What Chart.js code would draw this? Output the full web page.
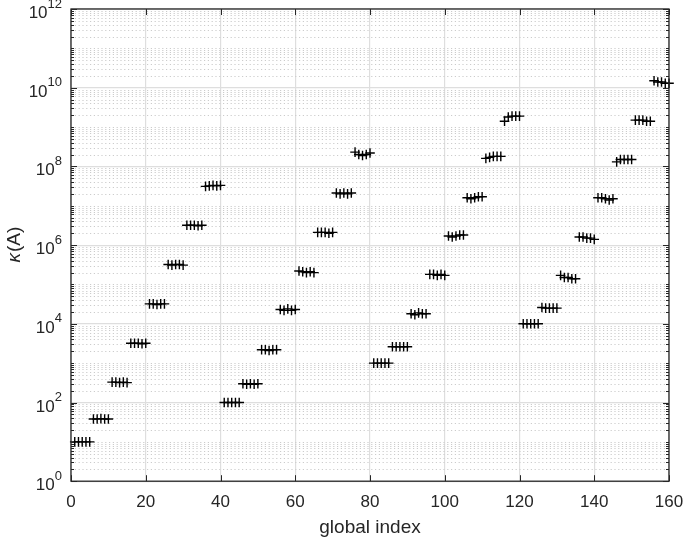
<!DOCTYPE html>
<html>
<head>
<meta charset="utf-8">
<script src="https://cdn.jsdelivr.net/npm/chart.js@4.4.0/dist/chart.umd.min.js"></script>
<style>
  html, body { margin: 0; padding: 0; background: #fff; }
  #wrap { width: 685px; height: 539px; }
</style>
</head>
<body>
<div id="wrap"><canvas id="kappaChart" width="685" height="539"></canvas></div>
<script>
// x tick labels and y decade ticks
const xTicks = [0, 20, 40, 60, 80, 100, 120, 140, 160];
const yMajorExp = [0, 2, 4, 6, 8, 10, 12];

// kappa(A) for each global index 1..160, five matrices per block
const kappa = [
  10, 10, 10, 10, 10,
  38, 38, 39, 38, 38,
  330, 330, 320, 330, 320,
  3200, 3200, 3200, 3100, 3200,
  32000, 32000, 31000, 32000, 32000,
  320000, 310000, 320000, 320000, 310000,
  3.2e6, 3.2e6, 3.2e6, 3.1e6, 3.2e6,
  3.1e7, 3.2e7, 3.3e7, 3.2e7, 3.3e7,
  100, 100, 100, 100, 100,
  300, 290, 300, 290, 300,
  2200, 2200, 2100, 2200, 2200,
  2.3e4, 2.2e4, 2.4e4, 2.2e4, 2.3e4,
  2.2e5, 2.1e5, 2.0e5, 2.1e5, 2.0e5,
  2.1e6, 2.1e6, 2.1e6, 2.0e6, 2.1e6,
  2.1e7, 2.0e7, 2.1e7, 2.0e7, 2.1e7,
  2.3e8, 2.0e8, 1.9e8, 2.0e8, 2.2e8,
  1000, 1000, 1000, 1000, 1000,
  2600, 2600, 2600, 2600, 2600,
  1.8e4, 1.7e4, 1.9e4, 1.8e4, 1.8e4,
  1.8e5, 1.8e5, 1.7e5, 1.8e5, 1.7e5,
  1.7e6, 1.6e6, 1.7e6, 1.8e6, 1.8e6,
  1.6e7, 1.5e7, 1.6e7, 1.7e7, 1.7e7,
  1.6e8, 1.7e8, 1.8e8, 1.8e8, 1.8e8,
  1.4e9, 1.8e9, 1.9e9, 1.9e9, 1.9e9,
  1.0e4, 1.0e4, 1.0e4, 1.0e4, 1.0e4,
  2.6e4, 2.5e4, 2.5e4, 2.5e4, 2.5e4,
  1.7e5, 1.5e5, 1.5e5, 1.4e5, 1.4e5,
  1.6e6, 1.6e6, 1.5e6, 1.5e6, 1.4e6,
  1.6e7, 1.6e7, 1.5e7, 1.4e7, 1.5e7,
  1.3e8, 1.5e8, 1.5e8, 1.5e8, 1.5e8,
  1.5e9, 1.5e9, 1.5e9, 1.4e9, 1.4e9,
  1.5e10, 1.4e10, 1.4e10, 1.3e10, 1.3e10
];

const FONT = "'Liberation Sans', Arial, Helvetica, sans-serif";
const INK = '#262626';

// box, inward ticks, minor grid, tick labels (MATLAB look)
const axisFrame = {
  id: 'axisFrame',
  beforeDatasetsDraw(chart) {
    const { ctx, chartArea: a, scales: { y } } = chart;
    ctx.save();
    ctx.strokeStyle = '#cccccc';
    ctx.lineWidth = 1;
    ctx.setLineDash([1.2, 2.6]);
    for (let k = 0; k < 12; k++) {
      for (let m = 1; m <= 9; m++) {
        if (m === 1 && k % 2 === 0) continue;
        const py = Math.round(y.getPixelForValue(m * Math.pow(10, k))) + 0.5;
        ctx.beginPath();
        ctx.moveTo(a.left, py);
        ctx.lineTo(a.right, py);
        ctx.stroke();
      }
    }
    ctx.restore();
  },
  afterDraw(chart) {
    const { ctx, chartArea: a, scales: { x, y } } = chart;
    ctx.save();
    ctx.strokeStyle = INK;
    ctx.lineWidth = 1.3;
    ctx.strokeRect(a.left, a.top, a.right - a.left, a.bottom - a.top);

    ctx.lineWidth = 1;
    ctx.beginPath();
    xTicks.forEach(v => {
      const px = Math.round(x.getPixelForValue(v)) + 0.5;
      ctx.moveTo(px, a.bottom); ctx.lineTo(px, a.bottom - 6);
      ctx.moveTo(px, a.top); ctx.lineTo(px, a.top + 6);
    });
    for (let k = 0; k <= 12; k++) {
      for (let m = 1; m <= 9; m++) {
        if (k === 12 && m > 1) break;
        const len = (m === 1 && k % 2 === 0) ? 6 : 3;
        const py = Math.round(y.getPixelForValue(m * Math.pow(10, k))) + 0.5;
        ctx.moveTo(a.left, py); ctx.lineTo(a.left + len, py);
        ctx.moveTo(a.right, py); ctx.lineTo(a.right - len, py);
      }
    }
    ctx.stroke();

    ctx.fillStyle = INK;
    ctx.textBaseline = 'alphabetic';

    // x tick labels
    ctx.textAlign = 'center';
    ctx.font = '17px ' + FONT;
    xTicks.forEach(v => ctx.fillText(String(v), x.getPixelForValue(v), a.bottom + 26));

    // y tick labels 10^k
    ctx.textAlign = 'left';
    const rightEdge = a.left - 9;
    yMajorExp.forEach(e => {
      const py = y.getPixelForValue(Math.pow(10, e));
      ctx.font = '17px ' + FONT;
      const wb = ctx.measureText('10').width;
      ctx.font = '13px ' + FONT;
      const we = ctx.measureText(String(e)).width;
      const x0 = rightEdge - we - wb;
      ctx.font = '17px ' + FONT;
      ctx.fillText('10', x0, py + 9);
      ctx.font = '13px ' + FONT;
      ctx.fillText(String(e), x0 + wb, py - 1.5);
    });

    // y title kappa(A)
    ctx.translate(15, (a.top + a.bottom) / 2);
    ctx.rotate(-Math.PI / 2);
    ctx.font = 'italic 19px ' + FONT;
    const wk = ctx.measureText('κ').width;
    ctx.font = '19px ' + FONT;
    const wr = ctx.measureText('(A)').width;
    ctx.textBaseline = 'middle';
    ctx.font = 'italic 19px ' + FONT;
    ctx.fillText('κ', -(wk + wr) / 2, 0);
    ctx.font = '19px ' + FONT;
    ctx.fillText('(A)', -(wk + wr) / 2 + wk + 1, 0);
    ctx.restore();
  }
};

const points = kappa.map((v, i) => ({ x: i + 1, y: v }));

new Chart(document.getElementById('kappaChart'), {
  type: 'scatter',
  data: {
    datasets: [{
      data: points,
      pointStyle: 'cross',
      pointRadius: 4.8,
      pointHoverRadius: 4.8,
      borderColor: '#000',
      backgroundColor: '#000',
      borderWidth: 1.4,
      clip: false
    }]
  },
  options: {
    responsive: false,
    animation: false,
    events: [],
    layout: { padding: { left: 71, right: 16, top: 9, bottom: 0 } },
    plugins: { legend: { display: false }, tooltip: { enabled: false } },
    scales: {
      x: {
        type: 'linear',
        min: 0,
        max: 160,
        afterBuildTicks: s => { s.ticks = xTicks.map(v => ({ value: v })); },
        ticks: { display: false },
        grid: { color: '#dedede', lineWidth: 1.2, drawTicks: false },
        border: { display: false },
        title: { display: true, text: 'global index', color: INK, font: { family: FONT, size: 19 }, padding: { top: 35, bottom: 0 } }
      },
      y: {
        type: 'logarithmic',
        min: 1,
        max: 1e12,
        afterBuildTicks: s => { s.ticks = yMajorExp.map(e => ({ value: Math.pow(10, e) })); },
        ticks: { display: false },
        grid: { color: '#dedede', lineWidth: 1.2, drawTicks: false },
        border: { display: false }
      }
    }
  },
  plugins: [axisFrame]
});
</script>
</body>
</html>
